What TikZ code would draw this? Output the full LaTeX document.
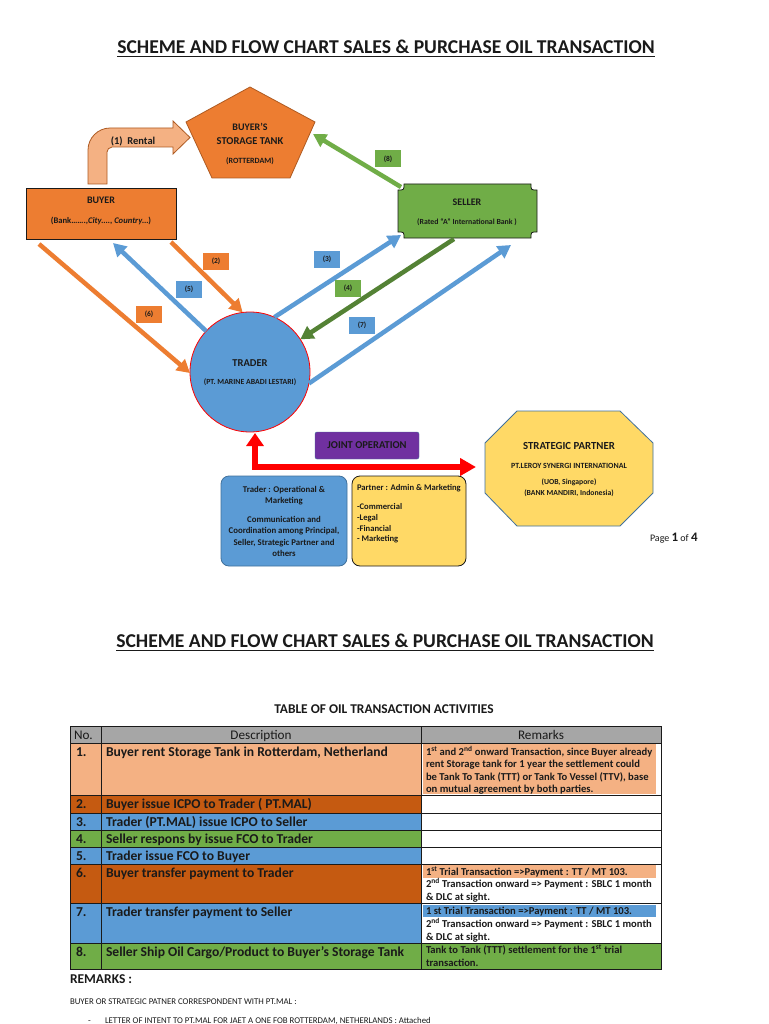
\documentclass[tikz,border=0pt]{standalone}
\usepackage{fontspec}
\setmainfont{Carlito}
\usetikzlibrary{arrows.meta}
\definecolor{orng}{HTML}{ED7D31}
\definecolor{lorng}{HTML}{F4B183}
\definecolor{dorng}{HTML}{C55A11}
\definecolor{brorng}{HTML}{AE5A21}
\definecolor{blu}{HTML}{5B9BD5}
\definecolor{dblu}{HTML}{41719C}
\definecolor{grn}{HTML}{70AD47}
\definecolor{dgrn}{HTML}{548235}
\definecolor{yel}{HTML}{FFD966}
\definecolor{purp}{HTML}{7030A0}
\definecolor{hdr}{HTML}{A6A6A6}
\definecolor{ink}{HTML}{1A1A1A}
\newcommand\fsz[2]{\fontsize{#1}{#2}\selectfont}
\begin{document}
\begin{tikzpicture}[x=1pt,y=-1pt,
  every node/.style={inner sep=0pt,outer sep=0pt,text=ink},
  txt/.style={font=\bfseries\fsz{#1}{#1}},
  lab/.style={fill=#1,minimum width=26pt,minimum height=17pt,font=\bfseries\fsz{7.5}{8}},
  flow/.style={line width=4.5pt,draw=#1,-{Triangle[length=13pt,width=14pt]}},
  cell/.style={anchor=base west,font=\bfseries\fsz{13.6}{15}},
  rem/.style={anchor=base west,font=\bfseries\fsz{10.6}{12}},
  hd/.style={anchor=base,font=\fsz{13.2}{15}}]
\useasboundingbox (0,0) rectangle (768,1024);
\fill[white] (0,0) rectangle (768,1024);

% ---------- title 1
\node[font=\bfseries\fsz{19.6}{22}] (t1) at (386,47) {SCHEME AND FLOW CHART SALES \& PURCHASE OIL TRANSACTION};
\draw[line width=1.3pt,ink] ([yshift=-2.5pt]t1.base west) -- ([yshift=-2.5pt]t1.base east);

% ---------- storage tank (pentagon)
\draw[fill=orng,draw=brorng,line width=0.8pt] (250,87) -- (315,122) -- (290,178) -- (212,178) -- (186,122) -- cycle;
\node[txt=10] (tk1) at (250,127) {BUYER’S};
\node[txt=10.5] (tk2) at (250,141) {STORAGE TANK};
\node[txt=8] (tk3) at (250,161) {(ROTTERDAM)};

% ---------- rental bent arrow
\draw[fill=lorng,draw=brorng,line width=0.8pt] (88,184) -- (88,150) .. controls (88,138) and (98,128) .. (110,128) -- (173,128) -- (173,121) -- (190,137.5) -- (173,154) -- (173,147) -- (112,147) .. controls (109.2,147) and (107,149.8) .. (107,152) -- (107,184) -- cycle;
\node[txt=10.5] (rent) at (133,141) {(1)\ \ Rental};

% ---------- buyer
\node[draw=ink,fill=orng,line width=1pt,minimum width=150pt,minimum height=50pt] (buyer) at (101,214) {};
\node[txt=10] (by1) at (101,200) {BUYER};
\node[txt=8.6] (by2) at (101,221) {(Bank…….,\textit{City….}, \textit{Country…})};

% ---------- seller (plaque)
\draw[fill=grn,draw=ink,line width=0.8pt] (398,190) .. controls (404,190) .. (404,184) -- (531,184) .. controls (531,190) .. (537,190) -- (537,232) .. controls (531,232) .. (531,238) -- (404,238) .. controls (404,232) .. (398,232) -- cycle;
\coordinate (seller) at (467.5,211);
\node[txt=10] (sl1) at (467,202) {SELLER};
\node[txt=7.8] (sl2) at (467,222) {(Rated “A” International Bank )};

% ---------- trader
\node[circle,draw=red,fill=blu,line width=0.8pt,minimum size=120pt] (trader) at (250,372) {};
\node[txt=10.5] (tr1) at (250,363) {TRADER};
\node[txt=7.8] (tr2) at (250,382) {(PT. MARINE ABADI LESTARI)};

% ---------- connectors
\coordinate (a6s) at (39,244);
\coordinate (a5e) at (113,243);
\coordinate (a2s) at (171,242);
\coordinate (a3e) at (401,235);
\coordinate (a4s) at (454,239);
\coordinate (a7e) at (511,245);
\coordinate (a8s) at (401,187);
\coordinate (a8e) at (313,134);
\draw[flow=orng] (a6s) -- (trader.181);
\draw[flow=blu] (trader.137) -- (a5e);
\draw[flow=orng] (a2s) -- (trader.97);
\draw[flow=blu] (trader.66) -- (a3e);
\draw[flow=dgrn] (a4s) -- (trader.33);
\draw[flow=blu] (trader.-11) -- (a7e);
\draw[flow=grn] (a8s) -- (a8e);

\node[lab=orng] (l2) at (216,261) {(2)};
\node[lab=blu] (l3) at (327,259) {(3)};
\node[lab=grn] (l4) at (348,288) {(4)};
\node[lab=blu] (l5) at (189,289) {(5)};
\node[lab=orng] (l6) at (149,314) {(6)};
\node[lab=blu] (l7) at (362,325) {(7)};
\node[lab=grn] (l8) at (388,159) {(8)};

% ---------- joint operation
\coordinate (jt) at (255,433);
\coordinate (jr) at (476,467);
\draw[red,line width=5.5pt,line join=miter,{Triangle[length=13pt,width=17pt]}-{Triangle[length=16pt,width=17pt]}] (jt) |- (jr);
\node[draw=dblu,fill=purp,rounded corners=2pt,minimum width=104pt,minimum height=27pt,txt=10.5] (jo) at (367,445.5) {JOINT OPERATION};

\node[draw=dblu,fill=blu,rounded corners=8pt,line width=0.8pt,minimum width=126pt,minimum height=90pt] (tbox) at (284,521) {};
\node[align=center,font=\bfseries\fsz{8.8}{11.5}] (tboxt) at (284,521.5) {Trader : Operational \&\\Marketing\\[7pt]Communication and\\Coordination among Principal,\\Seller, Strategic Partner and\\others};

\node[draw=ink,fill=yel,rounded corners=8pt,line width=0.8pt,minimum width=114pt,minimum height=90pt] (pbox) at (409,521) {};
\node[align=left,anchor=west,font=\bfseries\fsz{8.6}{10.8}] (pboxt) at (357,514) {Partner : Admin \& Marketing\\[8pt]-Commercial\\-Legal\\-Financial\\- Marketing};

% ---------- strategic partner (octagon)
\draw[fill=yel,draw=dblu,line width=0.8pt] (517,411) -- (620,411) -- (653,443) -- (653,493) -- (620,526) -- (517,526) -- (485,493) -- (485,443) -- cycle;
\node[txt=10.8] (sp1) at (569,446) {STRATEGIC PARTNER};
\node[txt=7.9] (sp2) at (569,466) {PT.LEROY SYNERGI INTERNATIONAL};
\node[txt=7.7] (sp3) at (569,482) {(UOB, Singapore)};
\node[txt=7.7] (sp4) at (569,493) {(BANK MANDIRI, Indonesia)};

\node[anchor=base west] (pg) at (650,541.5) {\fsz{10}{11}Page {\bfseries\fsz{13}{14}1} of {\bfseries\fsz{13}{14}4}};

% ---------- title 2
\node[font=\bfseries\fsz{19.6}{22}] (t2) at (385,641) {SCHEME AND FLOW CHART SALES \& PURCHASE OIL TRANSACTION};
\draw[line width=1.3pt,ink] ([yshift=-2.5pt]t2.base west) -- ([yshift=-2.5pt]t2.base east);

\node[txt=13.4] (tt) at (384,709) {TABLE OF OIL TRANSACTION ACTIVITIES};

% ---------- table
\fill[hdr] (70,726) rectangle (661,743);
\foreach \t/\b/\c in {743/795/lorng,795/813/dorng,813/830/blu,830/847/grn,847/864/blu,864/903/dorng,903/943/blu,943/969/grn}
  {\fill[\c] (70,\t) rectangle (421,\b);}
\fill[grn] (421,943) rectangle (661,969);
\fill[lorng] (423,744) rectangle (656,794);
\fill[lorng] (423,865) rectangle (656,877.5);
\fill[blu] (423,905) rectangle (656,917);
\draw[line width=1pt,ink] (70,726) rectangle (661,969);
\foreach \y in {743,795,813,830,847,864,903,943}
  {\draw[line width=1pt,ink] (70,\y) -- (661,\y);}
\draw[line width=1pt,ink] (101,726) -- (101,969);
\draw[line width=1pt,ink] (421,726) -- (421,969);

\node[hd,anchor=base west] (h1) at (74,739) {No.};
\node[hd] (h2) at (261,739) {Description};
\node[hd] (h3) at (541,739) {Remarks};

\node[cell] (n1) at (76,756.5) {1.};
\node[cell] (d1) at (106,756.5) {Buyer rent Storage Tank in Rotterdam, Netherland};
\node[cell] (n2) at (76,808.5) {2.};
\node[cell] (d2) at (106,808.5) {Buyer issue ICPO to Trader ( PT.MAL)};
\node[cell] (n3) at (76,826) {3.};
\node[cell] (d3) at (106,826) {Trader (PT.MAL) issue ICPO to Seller};
\node[cell] (n4) at (76,843) {4.};
\node[cell] (d4) at (106,843) {Seller respons by issue FCO to Trader};
\node[cell] (n5) at (76,860) {5.};
\node[cell] (d5) at (106,860) {Trader issue FCO to Buyer};
\node[cell] (n6) at (76,877.5) {6.};
\node[cell] (d6) at (106,877.5) {Buyer transfer payment to Trader};
\node[cell] (n7) at (76,916.5) {7.};
\node[cell] (d7) at (106,916.5) {Trader transfer payment to Seller};
\node[cell] (n8) at (76,956.5) {8.};
\node[cell] (d8) at (106,956.5) {Seller Ship Oil Cargo/Product to Buyer’s Storage Tank};

\node[rem] (r1a) at (426,755) {1\textsuperscript{st} and 2\textsuperscript{nd} onward Transaction, since Buyer already};
\node[rem] (r1b) at (426,767.5) {rent Storage tank for 1 year the settlement could};
\node[rem] (r1c) at (426,780) {be Tank To Tank (TTT) or Tank To Vessel (TTV), base};
\node[rem] (r1d) at (426,792.5) {on mutual agreement by both parties.};
\node[rem] (r6a) at (426,875) {1\textsuperscript{st} Trial Transaction =>Payment : TT / MT 103.};
\node[rem] (r6b) at (426,887.5) {2\textsuperscript{nd} Transaction onward => Payment : SBLC 1 month};
\node[rem] (r6c) at (426,900.5) {\& DLC at sight.};
\node[rem] (r7a) at (426,914.5) {1 st Trial Transaction =>Payment : TT / MT 103.};
\node[rem] (r7b) at (426,927.5) {2\textsuperscript{nd} Transaction onward => Payment : SBLC 1 month};
\node[rem] (r7c) at (426,940.5) {\& DLC at sight.};
\node[rem] (r8a) at (426,953.5) {Tank to Tank (TTT) settlement for the 1\textsuperscript{st} trial};
\node[rem] (r8b) at (426,966) {transaction.};

\node[anchor=base west,font=\bfseries\fsz{13.5}{15}] (rk) at (70,983) {REMARKS :};
\node[anchor=base west,font=\fsz{8.8}{10}] (rk1) at (70,1004) {BUYER OR STRATEGIC PATNER CORRESPONDENT WITH PT.MAL :};
\node[anchor=base west,font=\fsz{8.8}{10}] (rk2) at (88,1023) {-};
\node[anchor=base west,font=\fsz{8.8}{10}] (rk3) at (105,1023) {LETTER OF INTENT TO PT.MAL FOR JAET A ONE FOB ROTTERDAM, NETHERLANDS : Attached};
\end{tikzpicture}
\end{document}
